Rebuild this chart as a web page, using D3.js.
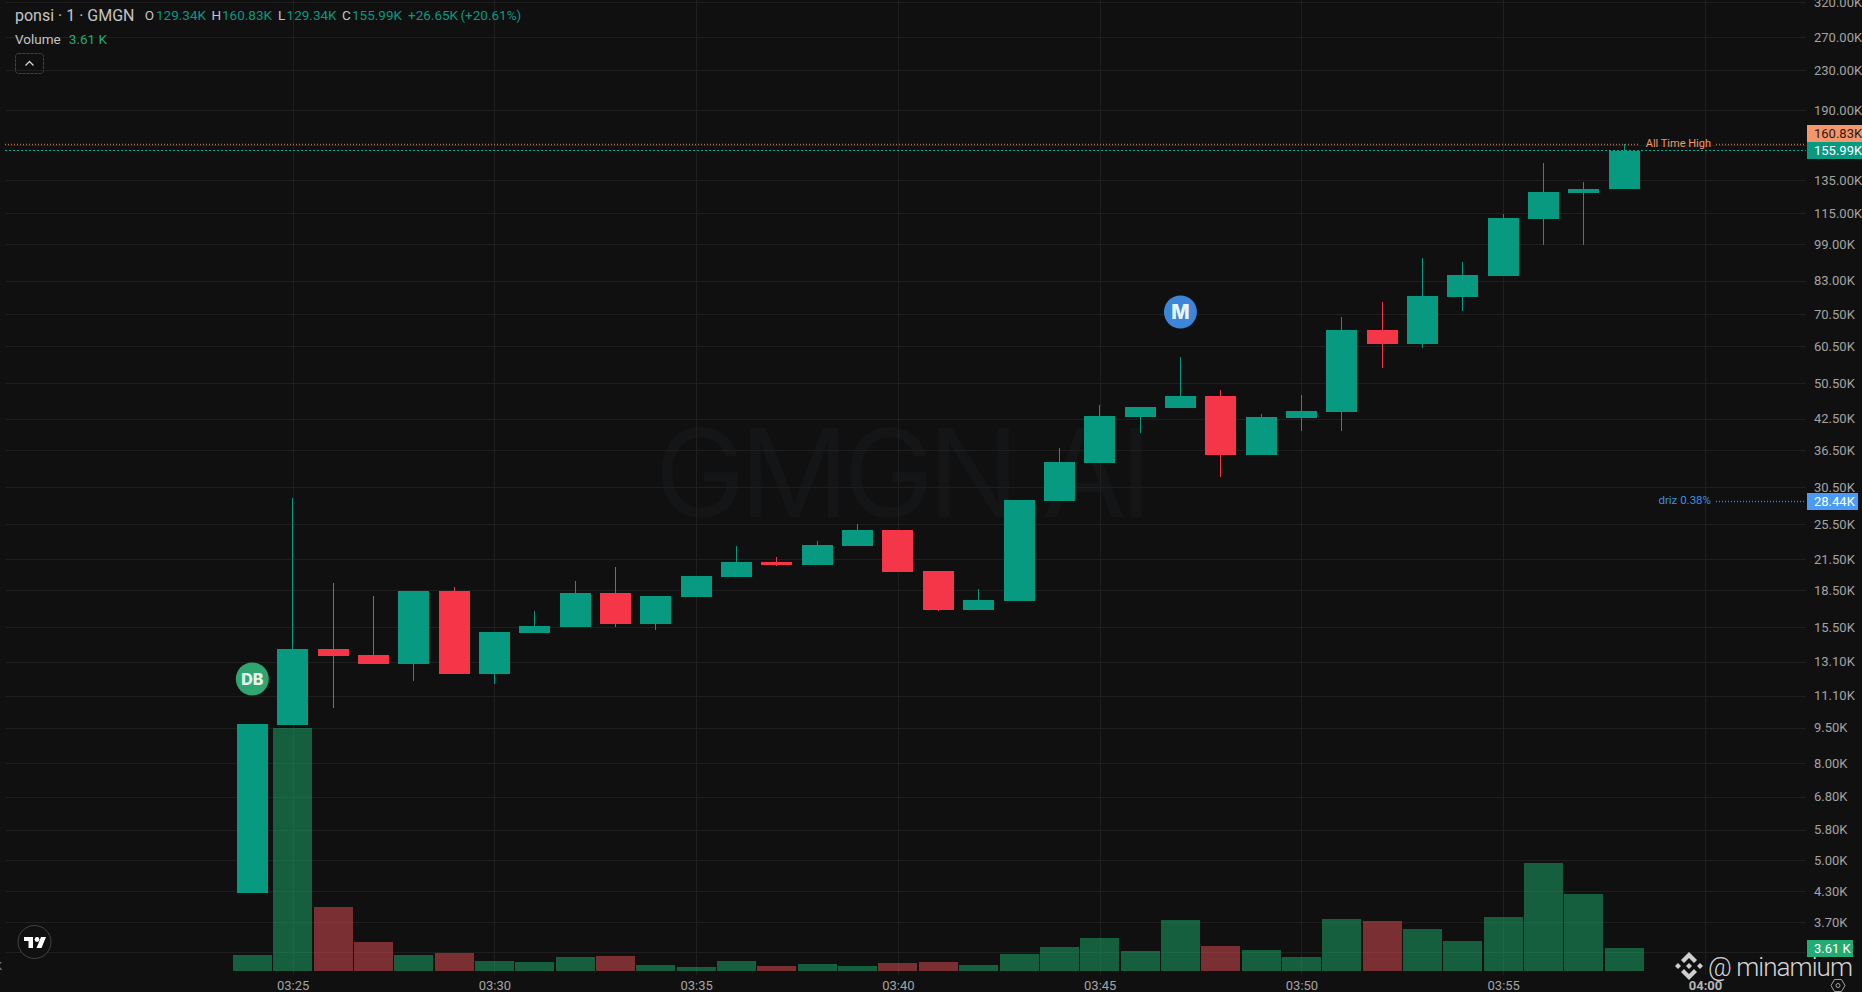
<!DOCTYPE html>
<html>
<head>
<meta charset="utf-8">
<title>ponsi</title>
<script src="https://cdn.jsdelivr.net/npm/d3@7"></script>
<style>
   html, body { margin: 0; padding: 0; background: #101010; overflow: hidden; }
   svg { display: block; }
   text { font-family: Roboto, "Noto Sans", sans-serif; }
   text.inter { font-family: Inter, "Noto Sans", sans-serif; }
</style>
</head>
<body>
<div id="chart"></div>
<script>
const times = ["03:24","03:25","03:26","03:27","03:28","03:29","03:30","03:31","03:32","03:33","03:34","03:35",
   "03:36","03:37","03:38","03:39","03:40","03:41","03:42","03:43","03:44","03:45","03:46","03:47",
   "03:48","03:49","03:50","03:51","03:52","03:53","03:54","03:55","03:56","03:57","03:58"];
// prices in K
const opens = [4.27,9.63,13.92,13.52,12.94,18.44,12.33,15.04,15.48,18.26,15.71,17.91,
   19.73,21.22,20.91,22.93,24.78,20.32,16.82,17.57,28.52,34.28,42.85,44.76,
   47.46,35.64,42.65,43.90,65.33,61.06,76.67,84.87,111.9,127.0,129.34];
const highs = [9.68,28.94,19.17,18.00,18.44,18.80,15.11,16.73,19.35,20.71,18.00,19.83,
   22.93,21.74,23.49,25.51,24.78,20.32,18.62,28.66,36.87,45.42,44.98,57.33,
   48.86,43.48,47.69,69.58,74.83,92.65,90.86,114.7,146.8,133.9,160.83];
const lows = [4.27,9.63,10.46,12.94,11.92,12.33,11.75,15.04,15.48,15.48,15.26,17.91,
   19.73,20.81,20.91,22.93,20.22,16.73,16.82,17.57,28.52,34.28,39.65,44.76,
   32.05,35.64,40.04,40.04,54.35,59.89,71.64,84.87,98.67,98.67,129.34];
const closes = [9.68,13.92,13.45,12.94,18.44,12.33,15.11,15.56,18.26,15.71,18.00,19.83,
   21.22,20.91,23.04,24.78,20.22,16.82,17.65,28.66,34.45,43.06,44.98,47.46,
   35.64,42.85,44.12,65.33,61.06,77.04,85.28,112.5,127.6,129.34,155.99];
// volume in K, colour follows the candle
const volumes = [2.51,38.15,10.05,4.55,2.51,2.83,1.57,1.41,2.20,2.36,0.94,0.63,
   1.57,0.79,1.10,0.79,1.26,1.41,0.94,2.67,3.77,5.18,3.14,8.01,
   3.93,3.30,2.20,8.16,7.85,6.59,4.71,8.48,16.96,12.09,3.61];

const priceTicks = [320,270,230,190,160,135,115,99,83,70.5,60.5,50.5,42.5,36.5,30.5,25.5,21.5,18.5,15.5,13.1,11.1,9.5,8,6.8,5.8,5,4.3,3.7,3.2];
const hiddenPriceLabels = [160,3.2]; // sit under the price tags
const timeTicks = ["03:25","03:30","03:35","03:40","03:45","03:50","03:55","04:00"];

const headerItems = [["O","129.34K"],["H","160.83K"],["L","129.34K"],["C","155.99K"]];
const athPrice = 160.83, lastPrice = 155.99, devPrice = 28.44, lastVolume = 3.61;

const width = 1862, height = 992;
const bg = "#101010", gridColor = "#1f1f1f";
const upColor = "#089981", downColor = "#f53649";
const orange = "#f4976c", blue = "#4a9bf5";

const parseTime = d3.timeParse("%H:%M");
const fmtTime = d3.timeFormat("%H:%M");

const x = d3.scaleTime()
   .domain([parseTime(times[0]), parseTime(times[times.length - 1])])
   .range([252.3, 1624.3]);
const y = d3.scaleLog().domain([3.2, 320]).range([952.3, 2.3]);
const yVol = d3.scaleLinear().domain([0, 40]).range([971, 716.2]);

const svg = d3.select("#chart").append("svg").attr("width", width).attr("height", height);
svg.append("rect").attr("width", width).attr("height", height).attr("fill", bg);

// background mark
svg.append("text").attr("class", "inter").attr("x", 903.5).attr("y", 517).attr("text-anchor", "middle")
   .attr("font-size", 122).attr("fill", "#141517").attr("textLength", 498).text("GMGN.AI");

// grid comes with the axes
const yAxis = svg.append("g").attr("transform", "translate(1806,0)")
   .call(d3.axisRight(y).tickValues(priceTicks).tickSize(-1800).tickPadding(8)
      .tickFormat(d => d.toFixed(2) + "K"));
yAxis.select(".domain").remove();
yAxis.selectAll("line").attr("stroke", gridColor).attr("shape-rendering", "crispEdges");
yAxis.selectAll("text").attr("fill", "#a3a3a3").attr("font-size", 13);
yAxis.selectAll(".tick").filter(d => hiddenPriceLabels.includes(d)).select("text").remove();

const xAxis = svg.append("g").attr("transform", "translate(0,975)")
   .call(d3.axisBottom(x).tickValues(timeTicks.map(parseTime)).tickSize(-975).tickPadding(6).tickFormat(fmtTime));
xAxis.select(".domain").remove();
xAxis.selectAll("line").attr("stroke", gridColor).attr("shape-rendering", "crispEdges");
xAxis.selectAll("text").attr("fill", "#a3a3a3").attr("font-size", 13);
xAxis.selectAll(".tick").filter(d => fmtTime(d) === "04:00").select("text")
   .attr("font-weight", 700).attr("fill", "#b5b5b5");

function isUp(i) { return closes[i] >= opens[i]; }
function cx(i) { return Math.floor(x(parseTime(times[i]))); }
const idx = d3.range(times.length);

// volume bars
svg.append("g").attr("shape-rendering", "crispEdges").selectAll("rect").data(idx).enter().append("rect")
   .attr("x", i => cx(i) - 19)
   .attr("width", 39)
   .attr("y", i => Math.round(yVol(volumes[i])))
   .attr("height", i => yVol(0) - Math.round(yVol(volumes[i])))
   .attr("fill", i => isUp(i) ? "#1cae6c" : "#e45056")
   .attr("fill-opacity", 0.5);

// price lines
function dotted(x1, x2, price, color, w, dash) {
   svg.append("line").attr("x1", x1).attr("x2", x2)
      .attr("y1", Math.floor(y(price)) + 0.5).attr("y2", Math.floor(y(price)) + 0.5)
      .attr("stroke", color).attr("stroke-width", w).attr("stroke-dasharray", dash);
}
dotted(5, 1639, athPrice, "#b06c50", 1.5, "1 2");
dotted(1716, 1805, athPrice, "#b06c50", 1.5, "1 2");
dotted(5, 1806, lastPrice, "#0aa88e", 1, "2 2");
dotted(1716, 1805, devPrice, "#3a80cc", 1.3, "1 2");

// candles
const candles = svg.append("g").attr("shape-rendering", "crispEdges");
candles.selectAll(".wick").data(idx).enter().append("rect").attr("class", "wick")
   .attr("x", i => cx(i))
   .attr("width", 1)
   .attr("y", i => Math.round(y(highs[i])))
   .attr("height", i => Math.round(y(lows[i])) - Math.round(y(highs[i])))
   .attr("fill", i => isUp(i) ? upColor : downColor);
candles.selectAll(".body").data(idx).enter().append("rect").attr("class", "body")
   .attr("x", i => cx(i) - 15)
   .attr("width", 31)
   .attr("y", i => Math.round(y(Math.max(opens[i], closes[i]))))
   .attr("height", i => Math.round(y(Math.min(opens[i], closes[i]))) - Math.round(y(Math.max(opens[i], closes[i]))))
   .attr("fill", i => isUp(i) ? upColor : downColor);

// trader badges
function badge(cxPos, cyPos, label, color, size) {
   svg.append("circle").attr("cx", cxPos).attr("cy", cyPos).attr("r", 16.5).attr("fill", color);
   svg.append("text").attr("class", "inter").attr("x", cxPos).attr("y", cyPos).attr("dy", "0.36em").attr("text-anchor", "middle")
      .attr("font-size", size).attr("font-weight", 800).attr("fill", "#e8f4ee").text(label);
}
badge(x(parseTime("03:24")), 679, "DB", "#2fa672", 16);
badge(x(parseTime("03:47")), 312, "M", "#3d85d8", 19.5);

// line labels
function label(xPos, yPos, txt, color, size, anchor) {
   return svg.append("text").attr("x", xPos).attr("y", yPos).attr("dy", "0.36em")
      .attr("text-anchor", anchor || "start").attr("font-size", size).attr("fill", color).text(txt);
}
label(1711, 143, "All Time High", orange, 11, "end");
label(1711, 500, "driz 0.38%", "#3e8ee0", 11.5, "end");

// tags on the price scale
function tag(top, bottom, right, txt, color, textColor) {
   svg.append("rect").attr("x", 1807).attr("y", top).attr("width", right - 1807).attr("height", bottom - top)
      .attr("fill", color).attr("shape-rendering", "crispEdges");
   label(1814, (top + bottom) / 2, txt, textColor, 13);
}
tag(125, 142, 1862, athPrice.toFixed(2) + "K", orange, "#2a1a12");
tag(142, 159, 1862, lastPrice.toFixed(2) + "K", upColor, "#ffffff");
tag(493, 510, 1858, devPrice.toFixed(2) + "K", blue, "#ffffff");
tag(940, 957, 1853, lastVolume.toFixed(2) + " K", "#22ab72", "#ffffff");

// header
label(15, 15, "ponsi · 1 · GMGN", "#c4c4c4", 16);
const headerX = [[144.7, 156], [211.5, 222], [278, 286.6], [342, 352]];
headerItems.forEach((h, i) => {
   label(headerX[i][0], 15, h[0], "#c4c4c4", 13.5);
   label(headerX[i][1], 15, h[1], upColor, 13.5);
});
label(408, 15, "+26.65K", upColor, 13.5);
label(460.5, 15, "(+20.61%)", upColor, 13.5);
label(15, 39, "Volume", "#c4c4c4", 13.5);
label(68.8, 39, "3.61 K", "#22ab72", 13.5);

svg.append("rect").attr("x", 15.5).attr("y", 53.5).attr("width", 28).attr("height", 20).attr("rx", 3)
   .attr("fill", "none").attr("stroke", "#454545").attr("stroke-dasharray", "3 1");
svg.append("path").attr("d", "M25.5 65.5 L29.5 61.5 L33.5 65.5").attr("fill", "none").attr("stroke", "#d0d0d0").attr("stroke-width", 1.3);

// tradingview logo
svg.append("circle").attr("cx", 34.5).attr("cy", 942).attr("r", 16.5).attr("fill", bg).attr("stroke", "#444");
svg.append("path").attr("fill", "#ffffff")
   .attr("d", "M24 937 H33 V948 H28.5 V941 H24 Z M41 937 H46 L41.5 948 H36.5 Z");
svg.append("circle").attr("cx", 37).attr("cy", 939.5).attr("r", 2.4).attr("fill", "#ffffff");

label(2, 966, "K", "#8a8a8a", 11, "end");

// settings hexagon
svg.append("path").attr("d", "M1831 985.5 L1834.5 979.5 H1841.5 L1845 985.5 L1841.5 991.5 H1834.5 Z")
   .attr("fill", "none").attr("stroke", "#a3a3a3");
svg.append("circle").attr("cx", 1838).attr("cy", 985.5).attr("r", 2).attr("fill", "none").attr("stroke", "#a3a3a3");

// corner watermark
const logo = svg.append("g").attr("transform", "translate(1689,966)").attr("fill", "#cfcfcf");
["M0 -14 L8 -6 L5 -3 L0 -8 L-5 -3 L-8 -6 Z", "M0 14 L8 6 L5 3 L0 8 L-5 3 L-8 6 Z",
 "M-14 0 L-11 -3 L-8 0 L-11 3 Z", "M14 0 L11 -3 L8 0 L11 3 Z", "M0 -3 L3 0 L0 3 L-3 0 Z"]
   .forEach(d => logo.append("path").attr("d", d));
svg.append("text").attr("x", 1708).attr("y", 976).attr("font-size", 26).attr("font-weight", 300).attr("fill", "#d4d4d4")
   .attr("textLength", 145).text("@ minamium");
</script>
</body>
</html>
